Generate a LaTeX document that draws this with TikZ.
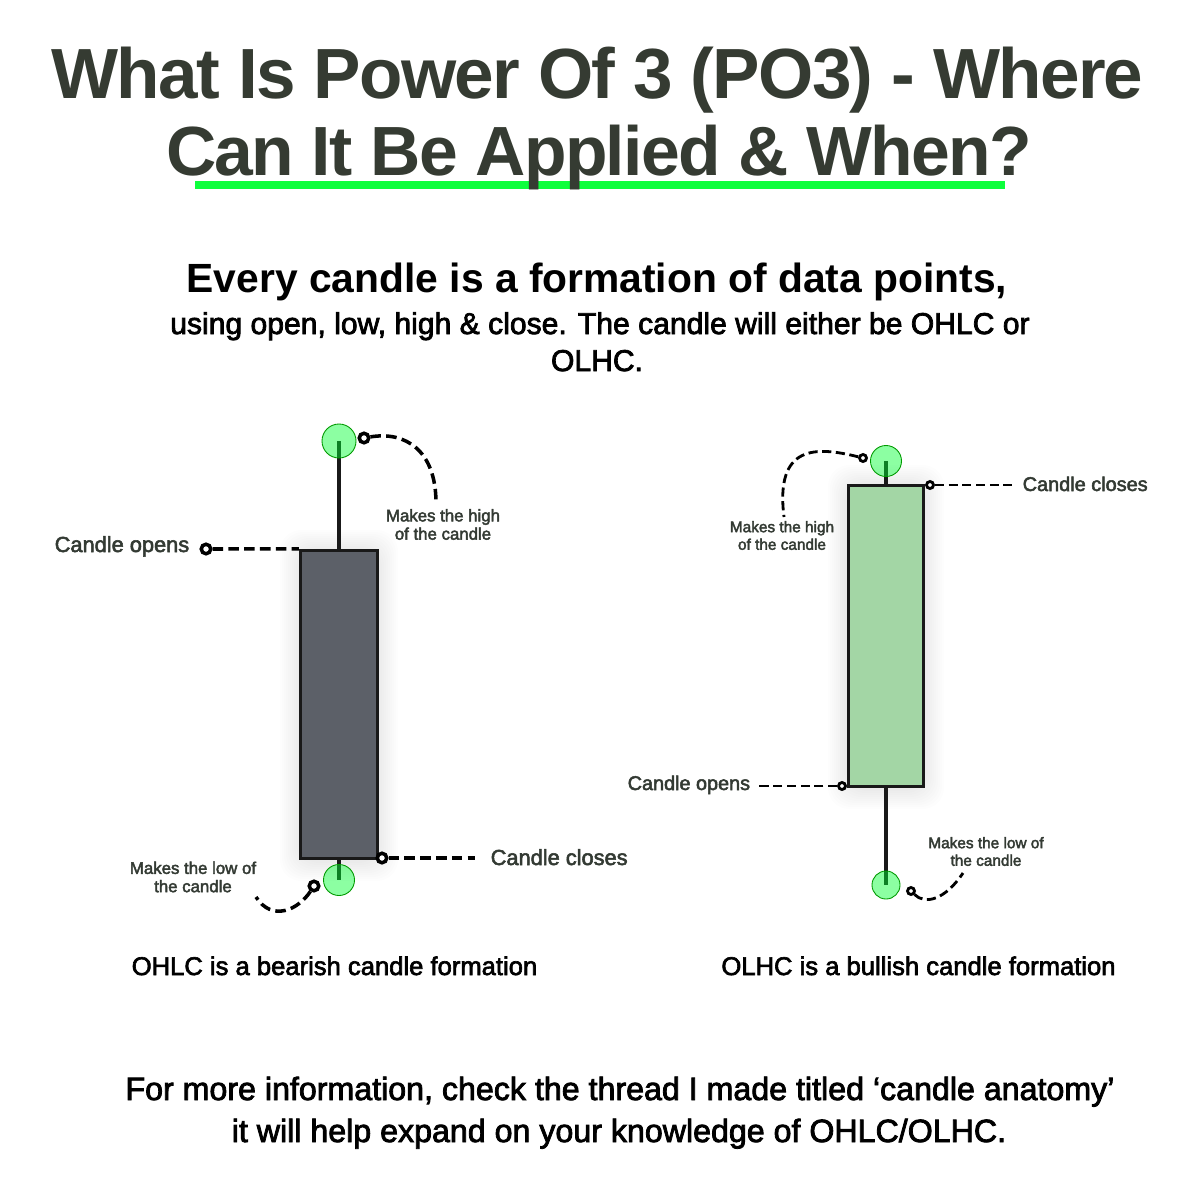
\documentclass[tikz,border=0pt]{standalone}
\usepackage{fontspec}
\setmainfont{Liberation Sans}
\newfontface\medfont[FakeBold=2.5]{Liberation Sans}
\newfontfamily\titlefont[LetterSpace=-2.4]{Liberation Sans}
\usetikzlibrary{calc}
\definecolor{titleInk}{HTML}{353B32}
\definecolor{labelInk}{HTML}{333A33}
\definecolor{bearFill}{HTML}{5C6068}
\definecolor{bullFill}{HTML}{A3D6A5}
\definecolor{blobGreen}{HTML}{00FF32}
\definecolor{lineGreen}{HTML}{0DFF3C}
\newcommand\drawCandleShadow[4]{%
\foreach \d in {2,4,...,20} {
\fill[black, opacity=0.009, rounded corners=6pt] ($ (#1,#2) + (-\d,-\d) $) rectangle ($ (#3,#4) + (\d,\d+2) $);
}
}
\begin{document}
\begin{tikzpicture}[x=0.01cm,y=-0.01cm,
			titleText/.style={anchor=base, inner sep=0pt, text=titleInk, font=\fontsize{#1}{24}\selectfont\titlefont\bfseries},
			headText/.style={anchor=base, inner sep=0pt, text=black, font=\fontsize{11.6}{13}\selectfont\bfseries},
			subText/.style={anchor=base, inner sep=0pt, text=black, font=\fontsize{8.56}{10}\selectfont\medfont},
			capText/.style={anchor=base, inner sep=0pt, text=black, font=\fontsize{7.28}{9}\selectfont\medfont},
			footText/.style={anchor=base, inner sep=0pt, text=black, font=\fontsize{9.15}{10}\selectfont\medfont},
			openText/.style={anchor=base west, inner sep=0pt, text=labelInk, font=\fontsize{6.2}{7}\selectfont\medfont},
			noteText/.style={anchor=center, inner sep=0pt, align=center, text=labelInk, font=\fontsize{4.78}{5.2}\selectfont\medfont},
			smallNote/.style={anchor=center, inner sep=0pt, align=center, text=labelInk, font=\fontsize{4.37}{5}\selectfont\medfont},
			bearBody/.style={rectangle, draw=black!90, fill=bearFill, line width=0.85pt, inner sep=0pt, minimum width=0.77cm, minimum height=3.08cm},
			bullBody/.style={rectangle, draw=black!90, fill=bullFill, line width=0.85pt, inner sep=0pt, minimum width=0.75cm, minimum height=3.01cm},
			blob/.style={circle, draw=green!60!black, line width=0.25pt, fill=blobGreen, fill opacity=0.45, inner sep=0pt},
			ring/.style={circle, draw=black, fill=white, line width=0.8pt, inner sep=0pt, minimum size=0.07cm},
			bigRing/.style={ring, line width=1pt, minimum size=0.095cm},
			wick/.style={line width=1pt, black!90},
			t1/.style={line width=1pt, dash pattern=on 3pt off 1.5pt},
			t2/.style={line width=0.8pt, dash pattern=on 2.6pt off 1.3pt}]

			\useasboundingbox[fill=white] (0,0) rectangle (1200,1200);

			% drawing title
			\fill[lineGreen] (195,181) rectangle (1005,189);
			\node[titleText=20.2] (title1) at (597.5,98) {What Is Power Of 3 (PO3) - Where};
			\node[titleText=19.8] (title2) at (599,175) {Can It Be Applied \& When?};
			\node[headText] (head1) at (597,292) {Every candle is a formation of data points,};
			\node[subText] (head2) at (600,334) {using open, low, high \& close. The candle will either be OHLC or};
			\node[subText] (head3) at (597,371) {OLHC.};

			% drawing bearish candle
			\drawCandleShadow{300}{550}{378}{859}
			\node[bearBody] (bearBox) at (339,704.5) {};
			\coordinate (bearHigh) at (339,441);
			\coordinate (bearLow) at (339,880);
			\draw[wick] (bearBox.north) -- (bearHigh);
			\draw[wick] (bearBox.south) -- (bearLow);
			\node[blob, minimum size=0.34cm] (bearTop) at (bearHigh) {};
			\node[blob, minimum size=0.31cm] (bearBot) at (bearLow) {};

			\node[bigRing] (ringBO) at (206,549) {};
			\node[bigRing] (ringBC) at (382,858) {};
			\node[bigRing] (ringBH) at (364,438) {};
			\node[bigRing] (ringBL) at (314,886) {};
			\coordinate (endBC) at (475,858);
			\coordinate (endBH) at (436,503);
			\coordinate (endBL) at (256,897);
			\draw[t1] (ringBO) -- (bearBox.north west);
			\draw[t1] (ringBC) -- (endBC);
			\draw[t1] (ringBH) .. controls (405,431) and (436,450) .. (endBH);
			\draw[t1] (ringBL) .. controls (298,910) and (272,922) .. (endBL);

			\node[openText] (bearOpens) at (54,552) {Candle opens};
			\node[openText] (bearCloses) at (490,865) {Candle closes};
			\node[noteText] (bearHighNote) at (443,524.5) {Makes the high\\of the candle};
			\node[noteText] (bearLowNote) at (193,877) {Makes the low of\\the candle};
			\node[capText] (bearCap) at (334.5,975) {OHLC is a bearish candle formation};

			% drawing bullish candle
			\drawCandleShadow{848}{485}{924}{787}
			\node[bullBody] (bullBox) at (886,636) {};
			\coordinate (bullHigh) at (886,461);
			\coordinate (bullLow) at (886,885);
			\draw[wick] (bullBox.north) -- (bullHigh);
			\draw[wick] (bullBox.south) -- (bullLow);
			\node[blob, minimum size=0.31cm] (bullTop) at (bullHigh) {};
			\node[blob, minimum size=0.28cm] (bullBot) at (bullLow) {};

			\node[ring] (ringGC) at (930,485) {};
			\node[ring] (ringGO) at (842,786) {};
			\node[ring] (ringGH) at (863,458) {};
			\node[ring] (ringGL) at (911,891) {};
			\coordinate (endGC) at (1012,485);
			\coordinate (endGO) at (757,786);
			\coordinate (endGH) at (784,517);
			\coordinate (endGL) at (963,873);
			\draw[t2] (ringGC) -- (endGC);
			\draw[t2] (ringGO) -- (endGO);
			\draw[t2] (ringGH) .. controls (815,446) and (775,445) .. (endGH);
			\draw[t2] (ringGL) .. controls (925,905) and (945,900) .. (endGL);

			\node[openText, font=\fontsize{5.66}{7}\selectfont\medfont] (bullCloses) at (1022,491) {Candle closes};
			\node[openText, font=\fontsize{5.64}{7}\selectfont\medfont] (bullOpens) at (627,790) {Candle opens};
			\node[smallNote] (bullHighNote) at (782,535.5) {Makes the high\\of the candle};
			\node[smallNote] (bullLowNote) at (986,851.5) {Makes the low of\\the candle};
			\node[capText] (bullCap) at (918.5,975) {OLHC is a bullish candle formation};

			% drawing footer
			\node[footText] (foot1) at (620,1100) {For more information, check the thread I made titled ‘candle anatomy’};
			\node[footText] (foot2) at (619,1142) {it will help expand on your knowledge of OHLC/OLHC.};
		\end{tikzpicture}
\end{document}
